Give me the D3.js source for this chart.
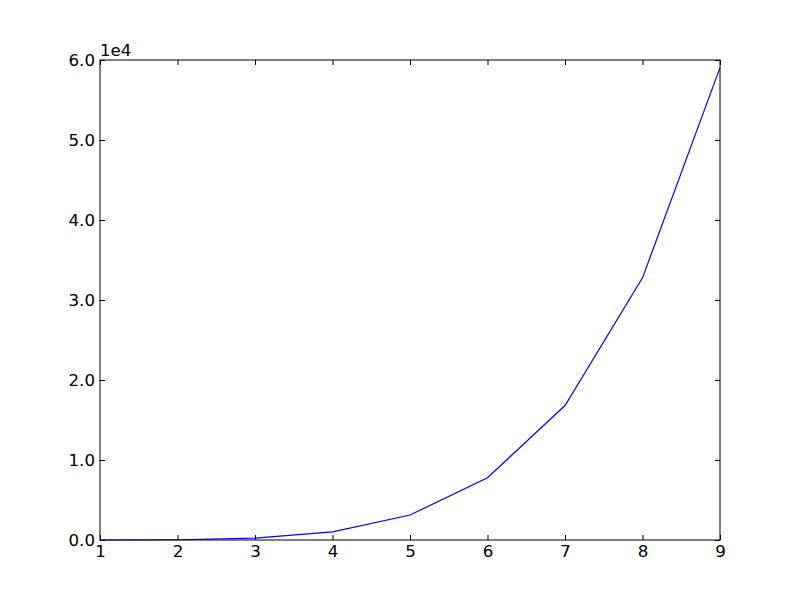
<!DOCTYPE html>
<html>
<head>
<meta charset="utf-8">
<script src="https://cdn.jsdelivr.net/npm/d3@7"></script>
<style>
  body { margin: 0; background: #fff; }
  svg text { font-family: "DejaVu Sans", sans-serif; font-size: 16.67px; fill: #000; }
</style>
</head>
<body>
<div id="chart"></div>
<script>
// values
const xValues = [1, 2, 3, 4, 5, 6, 7, 8, 9]
const yValues = [1, 32, 243, 1024, 3125, 7776, 16807, 32768, 59049]
const xTicks = [1, 2, 3, 4, 5, 6, 7, 8, 9]
const yTicks = [0, 10000, 20000, 30000, 40000, 50000, 60000]
const offsetLabel = "1e4"

const width = 800
const height = 600
const margin = { left: 100, right: 80, top: 60, bottom: 60 }  // matplotlib default subplot box
const tickLen = 5

const svg = d3.select("#chart").append("svg")
    .attr("width", width).attr("height", height)

const x = d3.scaleLinear().domain([1, 9]).range([margin.left, width - margin.right])
const y = d3.scaleLinear().domain([0, 60000]).range([height - margin.bottom, margin.top])

const points = xValues.map((d, i) => [d, yValues[i]])

const line = d3.line()
    .x(d => x(d[0]))
    .y(d => y(d[1]))

svg.append("path")
    .datum(points)
    .attr("fill", "none")
    .attr("stroke", "#0000ff")
    .attr("stroke-width", 1.2)
    .attr("d", line)

// inward ticks on all four sides, labels only bottom/left
const axisBottomG = svg.append("g")
    .attr("transform", `translate(0,${height - margin.bottom})`)
    .call(d3.axisBottom(x).tickValues(xTicks).tickSizeInner(-tickLen).tickSizeOuter(0).tickPadding(5).tickFormat(d3.format("d")))
const axisTopG = svg.append("g")
    .attr("transform", `translate(0,${margin.top})`)
    .call(d3.axisTop(x).tickValues(xTicks).tickSizeInner(-tickLen).tickSizeOuter(0).tickFormat(""))
const axisLeftG = svg.append("g")
    .attr("transform", `translate(${margin.left},0)`)
    .call(d3.axisLeft(y).tickValues(yTicks).tickSizeInner(-tickLen).tickSizeOuter(0).tickPadding(5).tickFormat(d => (d / 10000).toFixed(1)))
const axisRightG = svg.append("g")
    .attr("transform", `translate(${width - margin.right},0)`)
    .call(d3.axisRight(y).tickValues(yTicks).tickSizeInner(-tickLen).tickSizeOuter(0).tickFormat(""))

;[axisBottomG, axisTopG, axisLeftG, axisRightG].forEach(g => {
    g.select(".domain").remove()
    g.attr("font-family", null).attr("font-size", null)
    g.selectAll("line").attr("stroke", "#000")
})

// frame
svg.append("rect")
    .attr("x", x(1)).attr("y", y(60000))
    .attr("width", x(9) - x(1)).attr("height", y(0) - y(60000))
    .attr("fill", "none").attr("stroke", "#000").attr("stroke-width", 1)

svg.append("text")
    .attr("x", margin.left)
    .attr("y", margin.top - 4)
    .text(offsetLabel)
</script>
</body>
</html>
